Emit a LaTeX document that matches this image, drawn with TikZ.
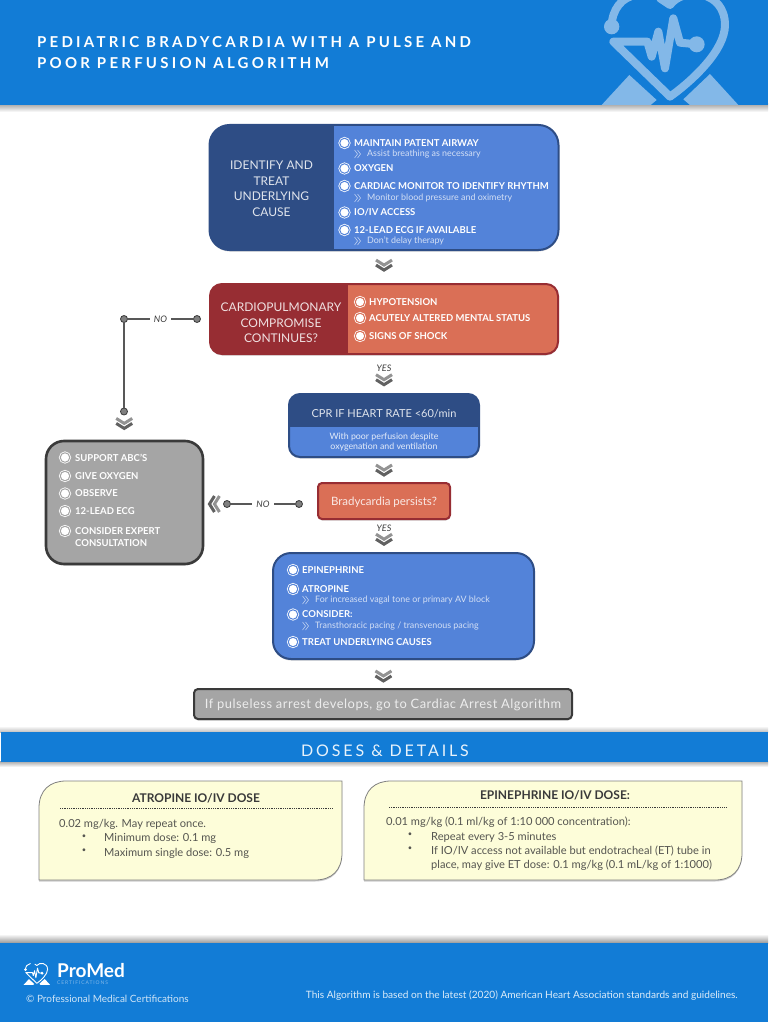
\documentclass[tikz,border=0pt]{standalone}
\usepackage{fontspec}
\setmainfont{Lato}
\newfontfamily\widefont[LetterSpace=21.6]{Lato}
\newfontfamily\doseface[LetterSpace=18]{Lato}
\newfontfamily\slightfont[LetterSpace=4]{Lato}
\usetikzlibrary{shadows}
\definecolor{barblue}{HTML}{127CD6}
\definecolor{heartblue}{HTML}{83B8E8}
\definecolor{lightblue}{HTML}{5383D9}
\definecolor{navyblue}{HTML}{2E4D85}
\definecolor{darkred}{HTML}{972D33}
\definecolor{salmon}{HTML}{DA6F56}
\definecolor{midgray}{HTML}{A5A5A5}
\definecolor{darkline}{HTML}{3A3A3A}
\definecolor{notefill}{HTML}{FDFDD9}
\definecolor{notetext}{HTML}{555550}
\tikzset{
  panel/.style={draw,rounded corners=#1,line width=2pt,inner sep=0pt,
    drop shadow={opacity=.35,shadow xshift=0pt,shadow yshift=-1.5pt}},
  leftpart/.style 2 args={path picture={\fill[#1,sharp corners] (path picture bounding box.north west)
    rectangle ([xshift=#2]path picture bounding box.south west);}},
  toppart/.style 2 args={path picture={\fill[#1,sharp corners] (path picture bounding box.north west)
    rectangle ([yshift=#2]path picture bounding box.north east);}},
  radio/.style={circle,draw=white,double=#1,double distance=1pt,line width=.8pt,
    fill=white,minimum size=9.5pt,inner sep=0pt},
  itemtext/.style={anchor=west,inner sep=0pt,text=white,font=\fontsize{9.5}{11}\selectfont\bfseries,align=left},
  subtext/.style={anchor=west,inner sep=0pt,text=white,text opacity=.75,font=\fontsize{8.9}{10}\selectfont},
  headtext/.style={align=center,inner sep=0pt,text=white,text opacity=.85,font=\fontsize{12}{15.5}\selectfont},
  joint/.style={circle,draw=darkline,fill=gray,line width=.8pt,minimum size=7pt,inner sep=0pt},
  noline/.style={draw=darkline!85,line width=1.4pt},
  answer/.style={inner sep=1pt,text=darkline,font=\fontsize{9}{10}\selectfont\itshape},
  notebox/.style={draw=gray,fill=notefill,line width=.8pt,
    drop shadow={opacity=.4,shadow xshift=0pt,shadow yshift=-1.5pt}},
  notetitle/.style={inner sep=0pt,text=darkline,font=\fontsize{12}{14}\selectfont\bfseries},
  notebody/.style={anchor=west,inner sep=0pt,text=notetext,font=\fontsize{11.1}{13}\selectfont},
  notedot/.style={inner sep=0pt,text=notetext,font=\fontsize{7.5}{9}\selectfont},
  dotrule/.style={line width=.8pt,dash pattern=on .8pt off 1pt,draw=darkline},
  chevron line/.style={line width=3pt,line join=miter},
  pics/chevdown/.style={code={
    \draw[chevron line,gray!85] (-8,-5) -- (0,0) -- (8,-5);
    \draw[chevron line,darkline!80] (-8,0) -- (0,5) -- (8,0);
  }},
  pics/subchev/.style={code={
    \draw[white,opacity=.6,line width=.6pt] (-3,-4) -- (0,0) -- (-3,4) (0,-4) -- (3,0) -- (0,4);
  }},
  pics/heartmark/.style 2 args={code={
    \fill[#1] (125,315) -- (208,225) -- (290,300) -- (272,315) -- cycle;
    \fill[#1] (370,298) -- (450,222) -- (535,315) -- (390,315) -- cycle;
    \draw[#1,line width=#2,line join=round,line cap=round]
      (230,-15) .. controls (185,-10) and (155,30) .. (155,80)
      (300,-5) -- (330,15) .. controls (370,-40) and (495,-30) .. (495,75)
      .. controls (495,150) and (400,240) .. (330,290) -- (160,125) -- (262,125)
      -- (275,170) -- (295,95) -- (315,205) -- (340,55) -- (360,128) -- (410,133);
    \fill[#1] (155,80) circle[radius=23] (410,133) circle[radius=24];
  }}
}
\begin{document}
\begin{tikzpicture}[x=1pt,y=-1pt]
\useasboundingbox (0,0) rectangle (768,1024);

% header and footer bars
\shade[top color=gray!70,bottom color=white] (0,104) rectangle (768,112);
\fill[barblue] (0,0) rectangle (768,105);
\begin{scope}
  \clip (0,0) rectangle (768,105);
  \pic[scale=.3333] at (560,0) {heartmark={heartblue}{8pt}};
\end{scope}
\node[anchor=north west,inner sep=0pt,text=white,align=left,font=\fontsize{15}{21}\selectfont\widefont\bfseries] (title) at (37,36.5)
  {PEDIATRIC BRADYCARDIA WITH A PULSE AND\\POOR PERFUSION ALGORITHM};

\shade[top color=white,bottom color=gray!80] (0,934) rectangle (768,943);
\fill[barblue] (0,943) rectangle (768,1022);
\pic[scale=.065] at (15.4,964.5) {heartmark={white}{.9pt}};
\node[anchor=west,inner sep=0pt,text=white,font=\fontsize{19}{20}\selectfont\bfseries] (brand) at (57,970) {ProMed};
\node[anchor=west,inner sep=0pt,text=heartblue,font=\fontsize{5}{5.5}\selectfont\doseface] (brandsub) at (57,982.5) {CERTIFICATIONS};
\node[anchor=west,inner sep=0pt,text=white,text opacity=.8,font=\fontsize{10}{11}\selectfont] (copyright) at (26,999) {© Professional Medical Certifications};
\node[anchor=east,inner sep=0pt,text=white,text opacity=.85,font=\fontsize{10.1}{11}\selectfont] (basis) at (738,995)
  {This Algorithm is based on the latest (2020) American Heart Association standards and guidelines.};

% boxes
\node[panel=20pt,draw=navyblue,fill=lightblue,minimum width=349pt,minimum height=125pt,leftpart={navyblue}{124pt}] (identify) at (384,187.5) {};
\node[panel=12pt,draw=darkred,fill=salmon,minimum width=348pt,minimum height=70pt,leftpart={darkred}{138pt}] (compromise) at (384,319) {};
\node[panel=11pt,draw=navyblue,fill=lightblue,minimum width=190pt,minimum height=63pt,toppart={navyblue}{-33pt}] (cpr) at (384,425.5) {};
\node[panel=4pt,draw=darkred,fill=salmon,minimum width=132pt,minimum height=36pt] (persists) at (384,501) {};
\node[panel=18pt,draw=darkline,fill=midgray,line width=2.6pt,minimum width=157pt,minimum height=123pt] (support) at (124.5,502.5) {};
\node[panel=18pt,draw=navyblue,fill=lightblue,minimum width=261pt,minimum height=106pt] (treat) at (403.5,606) {};
\node[panel=4pt,draw=darkline,fill=midgray,minimum width=378pt,minimum height=30pt,text=white,text opacity=.8,text height=9pt,text depth=0pt,font=\fontsize{12.9}{15}\selectfont\slightfont] (pulseless) at (383,704) {If pulseless arrest develops, go to Cardiac Arrest Algorithm};

\node[headtext] (identifyhead) at (271.5,189) {IDENTIFY AND\\TREAT\\UNDERLYING\\CAUSE};
\node[headtext] (compromisehead) at (281,323) {CARDIOPULMONARY\\COMPROMISE\\CONTINUES?};
\node[headtext,font=\fontsize{11}{13}\selectfont] (cprhead) at (384,414) {CPR IF HEART RATE <60/min};
\node[headtext,font=\fontsize{8.8}{10.5}\selectfont] (cprsub) at (384,442) {With poor perfusion despite\\oxygenation and ventilation};
\node[headtext,font=\fontsize{11.5}{14}\selectfont] (persistshead) at (384,502) {Bradycardia persists?};

% lists
\foreach \i/\y/\t in {1/143/MAINTAIN PATENT AIRWAY, 2/168.5/OXYGEN, 3/186/CARDIAC MONITOR TO IDENTIFY RHYTHM, 4/212.5/{IO/IV ACCESS}, 5/230/12-LEAD ECG IF AVAILABLE} {
  \node[radio=lightblue] (ident\i) at (344.5,\y) {};
  \node[itemtext] (identtext\i) at (354,\y) {\t};
}
\foreach \i/\y/\t in {1/154/Assist breathing as necessary, 2/198/Monitor blood pressure and oximetry, 3/241/Don’t delay therapy} {
  \pic at (357.5,\y) {subchev};
  \node[subtext] (identsub\i) at (367,\y) {\t};
}
\foreach \i/\y/\t in {1/302/HYPOTENSION, 2/318/ACUTELY ALTERED MENTAL STATUS, 3/336/SIGNS OF SHOCK} {
  \node[radio=salmon] (comp\i) at (360,\y) {};
  \node[itemtext] (comptext\i) at (369,\y) {\t};
}
\foreach \i/\y/\t in {1/457.5/SUPPORT ABC’S, 2/476/GIVE OXYGEN, 3/493.5/OBSERVE, 4/511/12-LEAD ECG, 5/531/CONSIDER EXPERT} {
  \node[radio=midgray] (supp\i) at (65,\y) {};
  \node[itemtext] (supptext\i) at (75,\y) {\t};
}
\node[itemtext] (supptext6) at (75,543.5) {CONSULTATION};
\foreach \i/\y/\t in {1/570/EPINEPHRINE, 2/589/ATROPINE, 3/614.5/CONSIDER:, 4/642/TREAT UNDERLYING CAUSES} {
  \node[radio=lightblue] (treat\i) at (293,\y) {};
  \node[itemtext] (treattext\i) at (302,\y) {\t};
}
\foreach \i/\y/\t in {1/600/For increased vagal tone or primary AV block, 2/626/{Transthoracic pacing / transvenous pacing}} {
  \pic at (305.5,\y) {subchev};
  \node[subtext] (treatsub\i) at (315,\y) {\t};
}

% chevrons between the boxes
\path (identify.south) -- pic[pos=.44] {chevdown} (compromise.north);
\path (compromise.south) -- pic[pos=.65] {chevdown} (cpr.north);
\path (cpr.south) -- pic[pos=.5] {chevdown} (persists.north);
\path (persists.south) -- pic[pos=.6] {chevdown} (persists.south |- treat.north);
\path (persists.south |- treat.south) -- pic[pos=.57] {chevdown} (pulseless.north);
\node[answer] (yes1) at (384,368) {YES};
\node[answer] (yes2) at (384,528) {YES};

% the two NO branches
\node[joint] (no1a) at (197,319) {};
\node[joint] (no1b) at (124,319) {};
\node[joint] (no1c) at (124,411.5) {};
\draw[noline] (no1a) -- node[answer,fill=white,inner xsep=4pt] (no1) {NO} (no1b) -- (no1c);
\path (no1c) -- pic[pos=.33] {chevdown} (support.north);
\node[joint] (no2a) at (299,504) {};
\node[joint] (no2b) at (227,504) {};
\draw[noline] (no2a) -- node[answer,fill=white,inner xsep=4pt] (no2) {NO} (no2b);
\path (no2b) -- pic[pos=.46,rotate=-90] {chevdown} (no2b -| support.east);

% doses and details
\shade[top color=white,bottom color=gray!50] (0,726) rectangle (768,732);
\shade[top color=gray!70,bottom color=white] (0,761) rectangle (768,767);
\fill[barblue] (1,732) rectangle (768,762);
\node[inner sep=0pt,text=white,text opacity=.9,font=\fontsize{16}{17}\selectfont\doseface] (doses) at (385,750.5) {DOSES \& DETAILS};

\draw[notebox] (39,880) -- (39,808) .. controls (39,790) and (50,781) .. (66,781) -- (342,781)
  -- (342,853) .. controls (342,870) and (332,880) .. (315,880) -- cycle;
\node[notetitle] (atropine) at (196,798) {ATROPINE IO/IV DOSE};
\draw[dotrule] (60,808) -- (333,808);
\node[notebody] (atropine1) at (59,824) {0.02 mg/kg. May repeat once.};
\node[notedot] (atropine2) at (84,836.5) {•};
\node[notebody] (atropine3) at (104,838.5) {Minimum dose: 0.1 mg};
\node[notedot] (atropine4) at (84,851) {•};
\node[notebody] (atropine5) at (104,853) {Maximum single dose: 0.5 mg};

\draw[notebox] (364,880) -- (364,808) .. controls (364,790) and (375,781) .. (391,781) -- (742,781)
  -- (742,853) .. controls (742,870) and (732,880) .. (715,880) -- cycle;
\node[notetitle] (epinephrine) at (555,795) {EPINEPHRINE IO/IV DOSE:};
\draw[dotrule] (389,807) -- (727,807);
\node[notebody] (epi1) at (386,822) {0.01 mg/kg (0.1 ml/kg of 1:10 000 concentration):};
\node[notedot] (epi2) at (410,835) {•};
\node[notedot] (epi3) at (410,848.5) {•};
\node[notebody] (epi4) at (431,837) {Repeat every 3-5 minutes};
\node[notebody] (epi5) at (431,851) {If IO/IV access not available but endotracheal (ET) tube in};
\node[notebody] (epi6) at (431,865) {place, may give ET dose: 0.1 mg/kg (0.1 mL/kg of 1:1000)};
\end{tikzpicture}
\end{document}
